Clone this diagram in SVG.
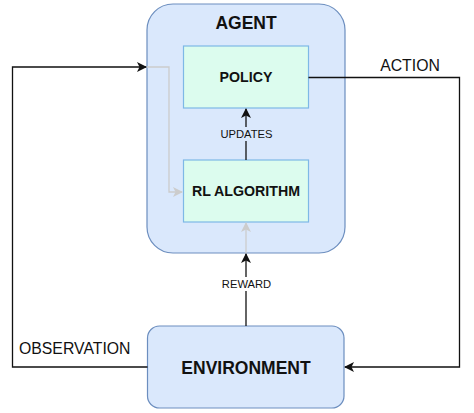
<svg xmlns="http://www.w3.org/2000/svg" width="474" height="413" viewBox="0 0 474 413">
<style>
.box{fill:#dae8fc;stroke:#6c8ebf;stroke-width:1.2}
.inner{fill:#dcfcee;stroke:#7eb8e6;stroke-width:1.2}
.b{font-family:"Liberation Sans",Arial,sans-serif;font-weight:bold;fill:#111;text-anchor:middle}
.t{font-family:"Liberation Sans",Arial,sans-serif;fill:#111}
.ln{fill:none;stroke:#111;stroke-width:1.3}
.gl{fill:none;stroke:#cccccc;stroke-width:1.3}
</style>
<defs>
<marker id="ah" viewBox="0 0 10 10" refX="9" refY="5" markerWidth="10" markerHeight="10" markerUnits="userSpaceOnUse" orient="auto">
<path d="M0,0 L10,5 L0,10 L2.5,5 Z" fill="#111"/>
</marker>
<marker id="ahg" viewBox="0 0 10 10" refX="9" refY="5" markerWidth="10" markerHeight="10" markerUnits="userSpaceOnUse" orient="auto">
<path d="M0,0 L10,5 L0,10 L2.5,5 Z" fill="#cccccc"/>
</marker>
</defs>
<rect width="474" height="413" fill="#fff"/>
<g id="agent">
<rect class="box" x="147" y="4" width="198" height="249" rx="26"/>
<text class="b" x="246" y="29" font-size="17.5">AGENT</text>
</g>
<g id="policy">
<rect class="inner" x="183.5" y="46" width="125" height="62"/>
<text class="b" x="246" y="82" font-size="14.2">POLICY</text>
</g>
<g id="rl-algorithm">
<rect class="inner" x="183.5" y="160" width="125" height="62"/>
<text class="b" x="246" y="196" font-size="14.2">RL ALGORITHM</text>
</g>
<g id="environment">
<rect class="box" x="147.5" y="326" width="196.5" height="82" rx="12"/>
<text class="b" x="246" y="374" font-size="17.5">ENVIRONMENT</text>
</g>
<g id="connectors">
<path class="gl" d="M147,67 H169 V192 H182" marker-end="url(#ahg)"/>
<path class="gl" d="M246,253 V223" marker-end="url(#ahg)"/>
<path class="ln" d="M246,160 V109" marker-end="url(#ah)"/>
<rect x="218" y="127" width="56" height="14" fill="#dae8fc"/>
<text class="t" x="246.5" y="138" font-size="11.2" text-anchor="middle">UPDATES</text>
<path class="ln" d="M246,326 V254" marker-end="url(#ah)"/>
<rect x="219" y="277" width="54" height="14" fill="#fff"/>
<text class="t" x="246.5" y="288" font-size="11.2" text-anchor="middle">REWARD</text>
<path class="ln" d="M147.5,367 H12.5 V67 H146" marker-end="url(#ah)"/>
<text class="t" x="19" y="354" font-size="15.8">OBSERVATION</text>
<path class="ln" d="M308.5,77.5 H459.5 V367 H345" marker-end="url(#ah)"/>
<text class="t" x="410" y="71" font-size="15.8" text-anchor="middle">ACTION</text>
</g>
</svg>
